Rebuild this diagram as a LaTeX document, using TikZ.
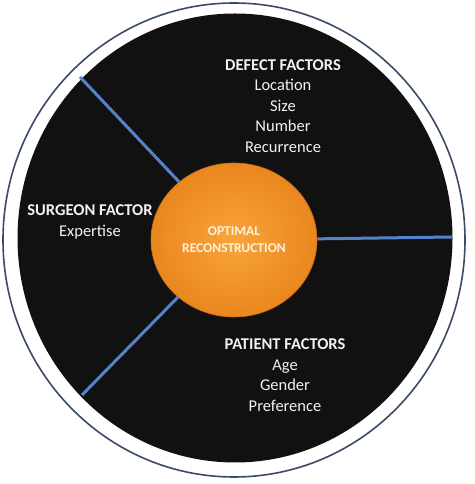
\documentclass[tikz,border=0pt]{standalone}
\usepackage{fontspec}
\setmainfont{Carlito}
\usetikzlibrary{shapes.geometric}
\definecolor{discblack}{HTML}{111111}
\definecolor{ringblue}{HTML}{3B4A68}
\definecolor{spokeblue}{HTML}{5583C9}
\definecolor{orangelight}{HTML}{F8A43A}
\definecolor{orangedark}{HTML}{EA871F}
\definecolor{orangerim}{HTML}{C86A12}
\definecolor{factortext}{HTML}{F2F2F2}
\definecolor{coretext}{HTML}{FFF1DC}
\begin{document}
\begin{tikzpicture}[
    x=1pt, y=1pt,
    factor/.style={align=center, text=factortext, font=\fontsize{16.5}{20.5}\selectfont},
    spoke/.style={draw=spokeblue, line width=3pt},
    core/.style={ellipse, minimum width=166pt, minimum height=154pt, inner sep=0pt, inner color=orangelight, outer color=orangedark, draw=orangerim, line width=0.6pt, align=center, text=coretext, font=\fontsize{13.5}{17}\selectfont\bfseries}
]
\useasboundingbox (0,0) rectangle (474,484);
% rings
\draw[ringblue, line width=1.6pt, fill=white] (234,244) ellipse [x radius=231, y radius=237];
\fill[discblack] (235,246) ellipse [x radius=217.5, y radius=224.5];

% centre
\node[core] (core) at (234,244) {OPTIMAL\\RECONSTRUCTION};

% spoke ends on the disc edge
\coordinate (rimright) at (452,247);
\coordinate (rimupper) at (80,407);
\coordinate (rimlower) at (82,89);

\draw[spoke] (core) -- (rimright);
\draw[spoke] (core) -- (rimupper);
\draw[spoke] (core) -- (rimlower);

% factor groups
\node[factor] (defect) at (283,378) {\textbf{DEFECT FACTORS}\\Location\\Size\\Number\\Recurrence};
\node[factor] (surgeon) at (90,262) {\textbf{SURGEON FACTOR}\\Expertise};
\node[factor] (patient) at (285,109) {\textbf{PATIENT FACTORS}\\Age\\Gender\\Preference};
\end{tikzpicture}
\end{document}
